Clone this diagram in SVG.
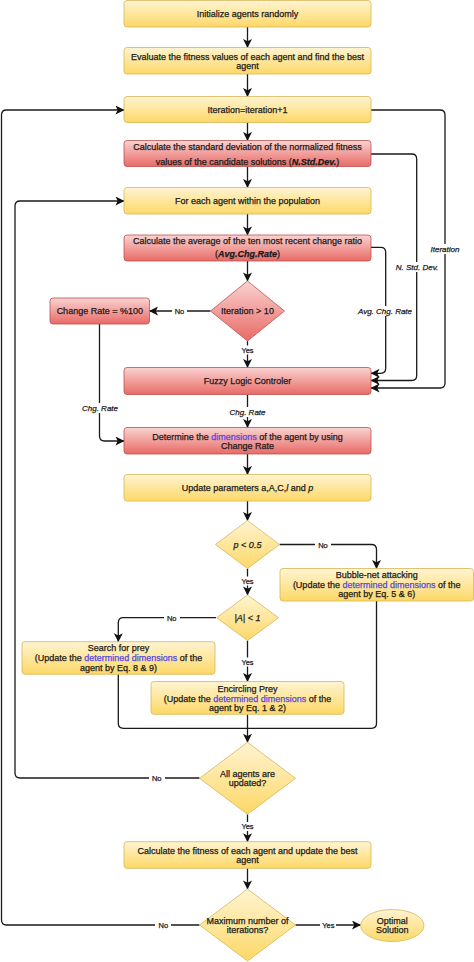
<svg xmlns="http://www.w3.org/2000/svg" width="474" height="962" viewBox="0 0 474 962">
<defs>
<linearGradient id="gy" x1="0" y1="0" x2="0" y2="1"><stop offset="0" stop-color="#fff4d2"/><stop offset="1" stop-color="#fdd867"/></linearGradient>
<linearGradient id="gr" x1="0" y1="0" x2="0" y2="1"><stop offset="0" stop-color="#f9d3d1"/><stop offset="1" stop-color="#e96a66"/></linearGradient>
<marker id="ar" viewBox="0 0 10 10" refX="9.5" refY="5" markerWidth="9" markerHeight="9" markerUnits="userSpaceOnUse" orient="auto"><path d="M0,0 L10,5 L0,10 L2.5,5 z" fill="#111"/></marker>
<style>
.y{fill:url(#gy);stroke:#d6b656;stroke-width:0.8}
.r{fill:url(#gr);stroke:#b85450;stroke-width:0.8}
text{font-family:"Liberation Sans",Arial,sans-serif;font-size:9px;fill:#1a1a1a;stroke:#1a1a1a;stroke-width:0.25;text-anchor:middle}
.lb{font-size:7.5px}
.it{font-style:italic;font-size:8px}
.bl{fill:#5548e0;stroke:#5548e0}
.c path,.c line{fill:none;stroke:#1a1a1a;stroke-width:1.3}
.a{marker-end:url(#ar)}
.w{fill:#fff;stroke:none}
</style>
</defs>

<g class="c" id="connectors">
<line class="a" x1="247.5" y1="27" x2="247.5" y2="47.5"/>
<line class="a" x1="247.5" y1="74" x2="247.5" y2="96.5"/>
<line class="a" x1="247.5" y1="122.5" x2="247.5" y2="140.5"/>
<line class="a" x1="247.5" y1="166.5" x2="247.5" y2="187.5"/>
<line class="a" x1="247.5" y1="214" x2="247.5" y2="235"/>
<line class="a" x1="247.5" y1="261" x2="247.5" y2="281"/>
<line class="a" x1="247.5" y1="341" x2="247.5" y2="367.5"/>
<line class="a" x1="210.5" y1="311" x2="149.5" y2="311"/>
<path class="a" d="M99.5,324 V436 Q99.5,441 104.5,441 H124"/>
<line class="a" x1="247.5" y1="394.5" x2="247.5" y2="427.5"/>
<line class="a" x1="247.5" y1="454" x2="247.5" y2="474.5"/>
<line class="a" x1="247.5" y1="501" x2="247.5" y2="520.5"/>
<path class="a" d="M279.5,544.5 H371.5 Q376.5,544.5 376.5,549.5 V568.5"/>
<line class="a" x1="247.5" y1="568.5" x2="247.5" y2="595"/>
<path class="a" d="M216,617.7 H123.3 Q118.3,617.7 118.3,622.7 V641.7"/>
<line class="a" x1="247.5" y1="640.5" x2="247.5" y2="681.5"/>
<path d="M118.3,674.3 V723.3 Q118.3,728.3 123.3,728.3 H371.5 Q376.5,728.3 376.5,723.3 V601"/>
<line class="a" x1="247.5" y1="714.3" x2="247.5" y2="742.3"/>
<line class="a" x1="247.5" y1="814.3" x2="247.5" y2="841.7"/>
<path class="a" d="M199.5,778 H20 Q15,778 15,773 V206 Q15,201 20,201 H124"/>
<line class="a" x1="247.5" y1="868.3" x2="247.5" y2="889"/>
<path class="a" d="M199.5,925 H6.5 Q1.5,925 1.5,920 V115 Q1.5,110 6.5,110 H124"/>
<line class="a" x1="295.5" y1="925" x2="360.5" y2="925"/>
<path class="a" d="M370.5,110 H440 Q445,110 445,115 V383 Q445,388 440,388 H371"/>
<path class="a" d="M370.5,154 H411.7 Q416.7,154 416.7,159 V375.5 Q416.7,380.5 411.7,380.5 H371"/>
<path class="a" d="M370.5,247.3 H380.7 Q385.7,247.3 385.7,252.3 V368.3 Q385.7,373.3 380.7,373.3 H371"/>
<g id="edge-labels">
<rect class="w" x="172" y="306" width="15" height="9"/><text class="lb" x="179.5" y="313.5">No</text>
<rect class="w" x="240" y="345.5" width="15" height="9"/><text class="lb" x="247.5" y="352.8">Yes</text>
<rect class="w" x="82" y="403" width="36" height="10"/><text class="it" x="100" y="411">Chg. Rate</text>
<rect class="w" x="230" y="407" width="36" height="10"/><text class="it" x="247.5" y="415">Chg. Rate</text>
<rect class="w" x="315" y="540" width="16" height="9"/><text class="lb" x="323" y="547.5">No</text>
<rect class="w" x="240" y="576.5" width="15" height="9"/><text class="lb" x="247.5" y="583.8">Yes</text>
<rect class="w" x="164" y="613" width="16" height="9"/><text class="lb" x="171.7" y="620.5">No</text>
<rect class="w" x="240" y="657.5" width="15" height="9"/><text class="lb" x="247.5" y="664.8">Yes</text>
<rect class="w" x="149" y="773" width="16" height="9"/><text class="lb" x="156.7" y="780.5">No</text>
<rect class="w" x="240" y="822" width="15" height="9"/><text class="lb" x="247.5" y="829.3">Yes</text>
<rect class="w" x="155" y="920.5" width="16" height="9"/><text class="lb" x="163.3" y="928">No</text>
<rect class="w" x="320" y="920.5" width="16" height="9"/><text class="lb" x="328.3" y="928">Yes</text>
<rect class="w" x="428" y="244" width="34" height="10"/><text class="it" x="445" y="251.5">Iteration</text>
<rect class="w" x="395" y="262" width="44" height="10"/><text class="it" x="417" y="270">N. Std. Dev.</text>
<rect class="w" x="357" y="306" width="57" height="10"/><text class="it" x="385" y="314">Avg. Chg. Rate</text>
</g>
</g>

<g id="n1"><rect class="y" x="124" y="0.5" width="247" height="26.5" rx="3"/><text x="247.5" y="17">Initialize agents randomly</text></g>
<g id="n2"><rect class="y" x="124" y="47.5" width="247" height="26.5" rx="3"/><text x="247.5" y="59.5">Evaluate the fitness values of each agent and find the best</text><text x="247.5" y="69">agent</text></g>
<g id="n3"><rect class="y" x="124" y="96.5" width="247" height="26" rx="3"/><text x="247.5" y="113">Iteration=iteration+1</text></g>
<g id="n4"><rect class="r" x="124" y="140.5" width="247" height="26" rx="3"/><text x="247.5" y="150.3">Calculate the standard deviation of the normalized fitness</text><text x="247.5" y="165">values of the candidate solutions (<tspan font-style="italic" font-weight="bold">N.Std.Dev.</tspan>)</text></g>
<g id="n5"><rect class="y" x="124" y="187.5" width="247" height="26.5" rx="3"/><text x="247.5" y="204">For each agent within the population</text></g>
<g id="n6"><rect class="r" x="124" y="235" width="247" height="26" rx="3"/><text x="247.5" y="243.7">Calculate the average of the ten most recent change ratio</text><text x="247.5" y="257.3">(<tspan font-style="italic" font-weight="bold">Avg.Chg.Rate</tspan>)</text></g>
<g id="n7"><polygon class="r" points="247.5,281 284.5,311 247.5,341 210.5,311"/><text x="247.5" y="314">Iteration &gt; 10</text></g>
<g id="n8"><rect class="r" x="50" y="298" width="99.5" height="26" rx="3"/><text x="99.8" y="314">Change Rate = %100</text></g>
<g id="n9"><rect class="r" x="124" y="367.5" width="247" height="27" rx="3"/><text x="247.5" y="384">Fuzzy Logic Controler</text></g>
<g id="n10"><rect class="r" x="124" y="427.5" width="247" height="26.5" rx="3"/><text x="247.5" y="439.7">Determine the <tspan class="bl">dimensions</tspan> of the agent by using</text><text x="247.5" y="448.8">Change Rate</text></g>
<g id="n11"><rect class="y" x="124" y="474.5" width="247" height="26.5" rx="3"/><text x="247.5" y="491.3">Update parameters a,A,C,<tspan font-style="italic">l</tspan> and <tspan font-style="italic">p</tspan></text></g>
<g id="n12"><polygon class="y" points="247.5,520.5 279.5,544.5 247.5,568.5 215.5,544.5"/><text x="247.5" y="547.5" font-style="italic">p &lt; 0.5</text></g>
<g id="n13"><rect class="y" x="280" y="568.5" width="193.5" height="32.5" rx="3"/><text x="376.7" y="578">Bubble-net attacking</text><text x="376.7" y="588">(Update the <tspan class="bl">determined dimensions</tspan> of the</text><text x="376.7" y="597.3">agent by Eq. 5 &amp; 6)</text></g>
<g id="n14"><polygon class="y" points="247.5,595 278.5,617.7 247.5,640.5 216.5,617.7"/><text x="247.5" y="620.7" font-style="italic">|A| &lt; 1</text></g>
<g id="n15"><rect class="y" x="22" y="641.7" width="193" height="32.6" rx="3"/><text x="118.5" y="650.5">Search for prey</text><text x="118.5" y="661.3">(Update the <tspan class="bl">determined dimensions</tspan> of the</text><text x="118.5" y="670.5">agent by Eq. 8 &amp; 9)</text></g>
<g id="n16"><rect class="y" x="151" y="681.5" width="193" height="32.8" rx="3"/><text x="247.5" y="692">Encircling Prey</text><text x="247.5" y="701.7">(Update the <tspan class="bl">determined dimensions</tspan> of the</text><text x="247.5" y="711">agent by Eq. 1 &amp; 2)</text></g>
<g id="n17"><polygon class="y" points="247.5,742.3 295.5,778.3 247.5,814.3 199.5,778.3"/><text x="247.5" y="777">All agents are</text><text x="247.5" y="786.3">updated?</text></g>
<g id="n18"><rect class="y" x="124" y="841.7" width="247" height="26.6" rx="3"/><text x="247.5" y="853.7">Calculate the fitness of each agent and update the best</text><text x="247.5" y="863">agent</text></g>
<g id="n19"><polygon class="y" points="247.5,889 295.5,925 247.5,961 199.5,925"/><text x="247.5" y="923.7">Maximum number of</text><text x="247.5" y="933">iterations?</text></g>
<g id="n20"><ellipse class="y" cx="392.3" cy="925.5" rx="31.7" ry="16"/><text x="392.3" y="924">Optimal</text><text x="392.3" y="933">Solution</text></g>
</svg>
